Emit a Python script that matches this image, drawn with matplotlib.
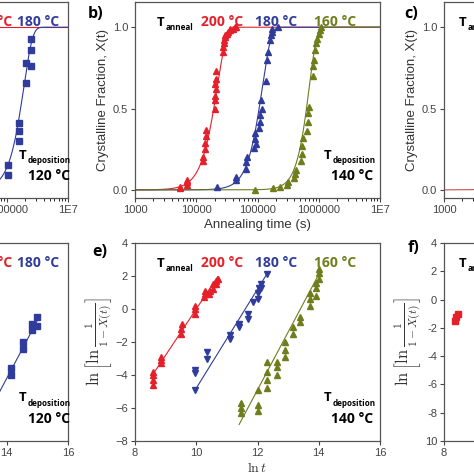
import matplotlib
matplotlib.use('Agg')
import matplotlib.pyplot as plt
import numpy as np

plt.rcParams['font.family'] = ['Liberation Sans', 'DejaVu Sans']
plt.rcParams['mathtext.fontset'] = 'cm'

RED = '#e5202a'
BLUE = '#2f3c9c'
GREEN = '#6f7d1c'
BOLD = 'Open Sans'

# Avrami fit parameters (tau in s, exponent n)
fit_b = {'200': (22000, 2.8), '180': (120000, 3.0), '160': (700000, 3.5)}
fit_a = {'200': (60000, 3.0), '180': (1.9e6, 3.0)}
fit_c_red = (40000, 2.5)

# panel b points: time (s), X
b_red_t = [5500, 5500, 7000, 7000, 7000, 13000, 13000, 14000, 14000, 14500, 14500,
           20000, 20000, 20000, 20000, 21000, 21000, 21000, 27000, 27000, 28000, 28000,
           29000, 30000, 32000, 33000, 35000, 36000, 40000, 43000, 45000]
b_red_x = [0.01, 0.02, 0.03, 0.05, 0.06, 0.18, 0.20, 0.25, 0.29, 0.33, 0.37,
           0.50, 0.55, 0.58, 0.65, 0.62, 0.68, 0.73, 0.85, 0.88, 0.90, 0.92,
           0.94, 0.95, 0.96, 0.97, 0.98, 0.99, 0.99, 1.0, 1.0]
b_blue_t = [22000, 44000, 44000, 64000, 64000, 68000, 88000, 90000, 92000, 96000,
            105000, 108000, 110000, 112000, 118000, 140000, 145000, 150000,
            160000, 165000, 170000, 175000, 220000]
b_blue_x = [0.02, 0.06, 0.08, 0.13, 0.17, 0.20, 0.26, 0.31, 0.35, 0.28,
            0.38, 0.42, 0.46, 0.55, 0.50, 0.67, 0.80, 0.85,
            0.92, 0.95, 0.97, 0.99, 1.0]
b_green_t = [90000, 180000, 230000, 300000, 310000, 400000, 410000, 420000,
             520000, 530000, 540000, 550000, 650000, 660000, 680000, 700000,
             800000, 820000, 840000, 860000, 900000, 950000, 1000000, 1050000, 1100000]
b_green_x = [0.0, 0.01, 0.02, 0.03, 0.05, 0.07, 0.10, 0.12,
             0.18, 0.22, 0.27, 0.32, 0.36, 0.42, 0.47, 0.51,
             0.70, 0.76, 0.80, 0.86, 0.90, 0.93, 0.96, 0.98, 1.0]

# panel a points (180 C, 120 C deposition)
a_blue_t = [1.05e6, 1.05e6, 1.6e6, 1.6e6, 1.6e6, 2.1e6, 2.1e6, 2.5e6, 2.5e6, 2.5e6]
a_blue_x = [0.09, 0.15, 0.30, 0.36, 0.41, 0.66, 0.78, 0.76, 0.86, 0.93]

# panel e points: ln t, ln[ln(1/(1-X))]
e_red_l = [8.6, 8.6, 8.6, 8.6, 8.85, 8.85, 8.85, 9.5, 9.5, 9.55, 9.95, 9.95, 9.95,
           10.25, 10.3, 10.3, 10.4, 10.45, 10.55, 10.55, 10.65, 10.65, 10.7]
e_red_y = [-4.6, -4.3, -4.0, -3.8, -3.3, -3.1, -2.9, -1.5, -1.2, -0.9, -0.3, 0.0, 0.2,
           0.7, 0.9, 1.1, 0.9, 1.1, 1.2, 1.5, 1.5, 1.7, 1.8]
e_blue_l = [9.97, 9.97, 9.97, 10.35, 10.35, 11.1, 11.1, 11.4, 11.4, 11.7, 11.7,
            11.85, 12.0, 12.0, 12.05, 12.1, 12.1, 12.3]
e_blue_y = [-4.9, -3.9, -3.7, -3.0, -2.6, -1.8, -1.6, -1.1, -0.9, -0.6, -0.3,
            0.4, 0.6, 1.0, 1.3, 1.3, 1.5, 2.1]
e_green_l = [11.45, 11.45, 11.45, 12.0, 12.0, 12.0, 12.3, 12.3, 12.3, 12.3,
             12.65, 12.65, 12.65, 12.9, 12.9, 12.9, 13.15, 13.15, 13.4, 13.4,
             13.7, 13.7, 13.7, 13.9, 13.9, 13.9, 14.0, 14.0, 14.0]
e_green_y = [-6.3, -6.0, -5.7, -6.2, -5.8, -4.9, -4.8, -4.3, -3.8, -3.2,
             -4.0, -3.5, -3.2, -2.9, -2.5, -2.0, -1.5, -1.1, -0.8, -0.5,
             0.2, 0.6, 1.0, 0.8, 1.3, 1.6, 1.8, 2.2, 2.4]
e_fits = {'200': (8.6, 10.7, 2.8, 10.0), '180': (10.0, 12.3, 3.0, 11.6), '160': (11.4, 14.0, 3.5, 13.4)}

# panel d points
d_blue_l = [14.13, 14.13, 14.54, 14.54, 14.83, 14.83, 15.0, 15.0]
d_blue_y = [-4.0, -3.6, -2.4, -2.0, -1.3, -0.9, -1.0, -0.5]

# panel f points
f_red_l = [8.35, 8.4, 8.45]
f_red_y = [-1.5, -1.2, -1.0]

W = 474.0
def pos(left, top, right, bottom):
    return [left / W, 1 - bottom / W, (right - left) / W, (bottom - top) / W]

fig = plt.figure(figsize=(4.74, 4.74), dpi=100)
ax_a = fig.add_axes(pos(-177, 2, 68, 198))
ax_b = fig.add_axes(pos(135, 2, 380, 198))
ax_c = fig.add_axes(pos(444, 2, 689, 198))
ax_d = fig.add_axes(pos(-177, 243, 68, 441))
ax_e = fig.add_axes(pos(135, 243, 380, 441))
ax_f = fig.add_axes(pos(444, 243, 689, 441))

def style(ax):
    for s in ax.spines.values():
        s.set_color('#555555')
        s.set_linewidth(0.9)
    ax.tick_params(labelsize=8, colors='#444444', length=3, width=0.8, direction='out', pad=2)
    ax.tick_params(which='minor', length=2, width=0.6)

def avrami(t, tau, n):
    return 1 - np.exp(-(t / tau) ** n)

def tlabel(ax, x, y, sub, size=9.5):
    ax.text(x, y, 'T', transform=ax.transAxes, fontsize=size, fontweight='bold',
            family=BOLD, va='baseline')
    ax.annotate(sub, xy=(x, y), xycoords='axes fraction', xytext=(6.5, -3),
                textcoords='offset points', fontsize=size * 0.62, fontweight='bold',
                family=BOLD, va='baseline')

def ctext(ax, x, y, s, color, size=10):
    ax.text(x, y, s, transform=ax.transAxes, fontsize=size, fontweight='bold',
            family=BOLD, color=color, va='baseline')

tt = np.logspace(3, 7, 600)

# ---- top row: X(t) vs time
for ax in (ax_a, ax_b, ax_c):
    style(ax)
    ax.set_xscale('log')
    ax.set_xlim(1000, 1e7)
    ax.set_ylim(-0.05, 1.155)
    ax.set_yticks([0.0, 0.5, 1.0])
    ax.set_yticklabels(['0.0', '0.5', '1.0'])
    ax.set_xticks([1e3, 1e4, 1e5, 1e6, 1e7])
    ax.set_xticklabels(['1000', '10000', '100000', '1000000', '1E7'])
    ax.set_ylabel('Crystalline Fraction, X(t)', fontsize=9.5, color='#333333', labelpad=3)

ax_b.set_xlabel('Annealing time (s)', fontsize=9.5, color='#333333', labelpad=3)

cols = {'200': RED, '180': BLUE, '160': GREEN}
for k, (tau, n) in fit_b.items():
    ax_b.plot(tt, avrami(tt, tau, n), color=cols[k], lw=0.8)
ax_b.plot(b_red_t, b_red_x, '^', color=RED, ms=4, ls='none')
ax_b.plot(b_blue_t, b_blue_x, '^', color=BLUE, ms=4, ls='none')
ax_b.plot(b_green_t, b_green_x, '^', color=GREEN, ms=4, ls='none')

for k, (tau, n) in fit_a.items():
    ax_a.plot(tt, avrami(tt, tau, n), color=cols[k], lw=0.8)
ax_a.plot(a_blue_t, a_blue_x, 's', color=BLUE, ms=4, ls='none')

ax_c.plot(tt, avrami(tt, *fit_c_red), color='#c0504d', lw=0.8)

# ---- bottom row: Avrami plots
for ax in (ax_d, ax_e, ax_f):
    style(ax)
    ax.set_xlim(8, 16)
    ax.set_xticks([8, 10, 12, 14, 16])
    ax.set_ylabel(r'$\ln\left[\ln\frac{1}{1-X(t)}\right]$', fontsize=12, color='#333333', labelpad=1)
ax_d.set_ylim(-8, 4)
ax_e.set_ylim(-8, 4)
ax_f.set_ylim(-10, 4)
ax_e.set_yticks([-8, -6, -4, -2, 0, 2, 4])
ax_f.set_yticks([-10, -8, -6, -4, -2, 0, 2, 4])
ax_f.set_yticklabels(['10', '-8', '-6', '-4', '-2', '0', '2', '4'])
ax_e.set_xlabel(r'$\ln t$', fontsize=10, color='#333333', labelpad=2)

for k, (l0, l1, n, c) in e_fits.items():
    ll = np.array([l0, l1])
    ax_e.plot(ll, n * (ll - c), color=cols[k], lw=0.8)
ax_e.plot(e_red_l, e_red_y, '^', color=RED, ms=4, ls='none')
ax_e.plot(e_blue_l, e_blue_y, 'v', color=BLUE, ms=4, ls='none')
ax_e.plot(e_green_l, e_green_y, '^', color=GREEN, ms=4, ls='none')

ld = np.array([13.0, 15.1])
ax_d.plot(ld, 3.5 * (ld - 15.2), color=BLUE, lw=0.8)
ax_d.plot(d_blue_l, d_blue_y, 's', color=BLUE, ms=4, ls='none')
ax_f.plot(f_red_l, f_red_y, 's', color=RED, ms=4, ls='none')

# ---- annotations
for ax in (ax_b, ax_e):
    tlabel(ax, 0.09, 0.88, 'anneal')
    ctext(ax, 0.27, 0.88, '200 °C', RED)
    ctext(ax, 0.49, 0.88, '180 °C', BLUE)
    ctext(ax, 0.73, 0.88, '160 °C', GREEN)
    tlabel(ax, 0.77, 0.20, 'deposition')
    ax.text(0.80, 0.09, '140 °C', transform=ax.transAxes, fontsize=10,
            fontweight='bold', family=BOLD, va='baseline')
for ax in (ax_a, ax_d):
    ctext(ax, 0.60, 0.88, '200 °C', RED)
    ctext(ax, 0.79, 0.88, '180 °C', BLUE)
    tlabel(ax, 0.80, 0.20, 'deposition')
    ax.text(0.835, 0.09, '120 °C', transform=ax.transAxes, fontsize=10,
            fontweight='bold', family=BOLD, va='baseline')
for ax in (ax_c, ax_f):
    tlabel(ax, 0.06, 0.88, 'anneal')

for s, x, y in [('b)', 88, 18), ('e)', 92, 256), ('c)', 404, 18), ('f)', 408, 252)]:
    fig.text(x / W, 1 - y / W, s, fontsize=11.5, fontweight='bold', family=BOLD)

fig.savefig('out.png', dpi=100)
